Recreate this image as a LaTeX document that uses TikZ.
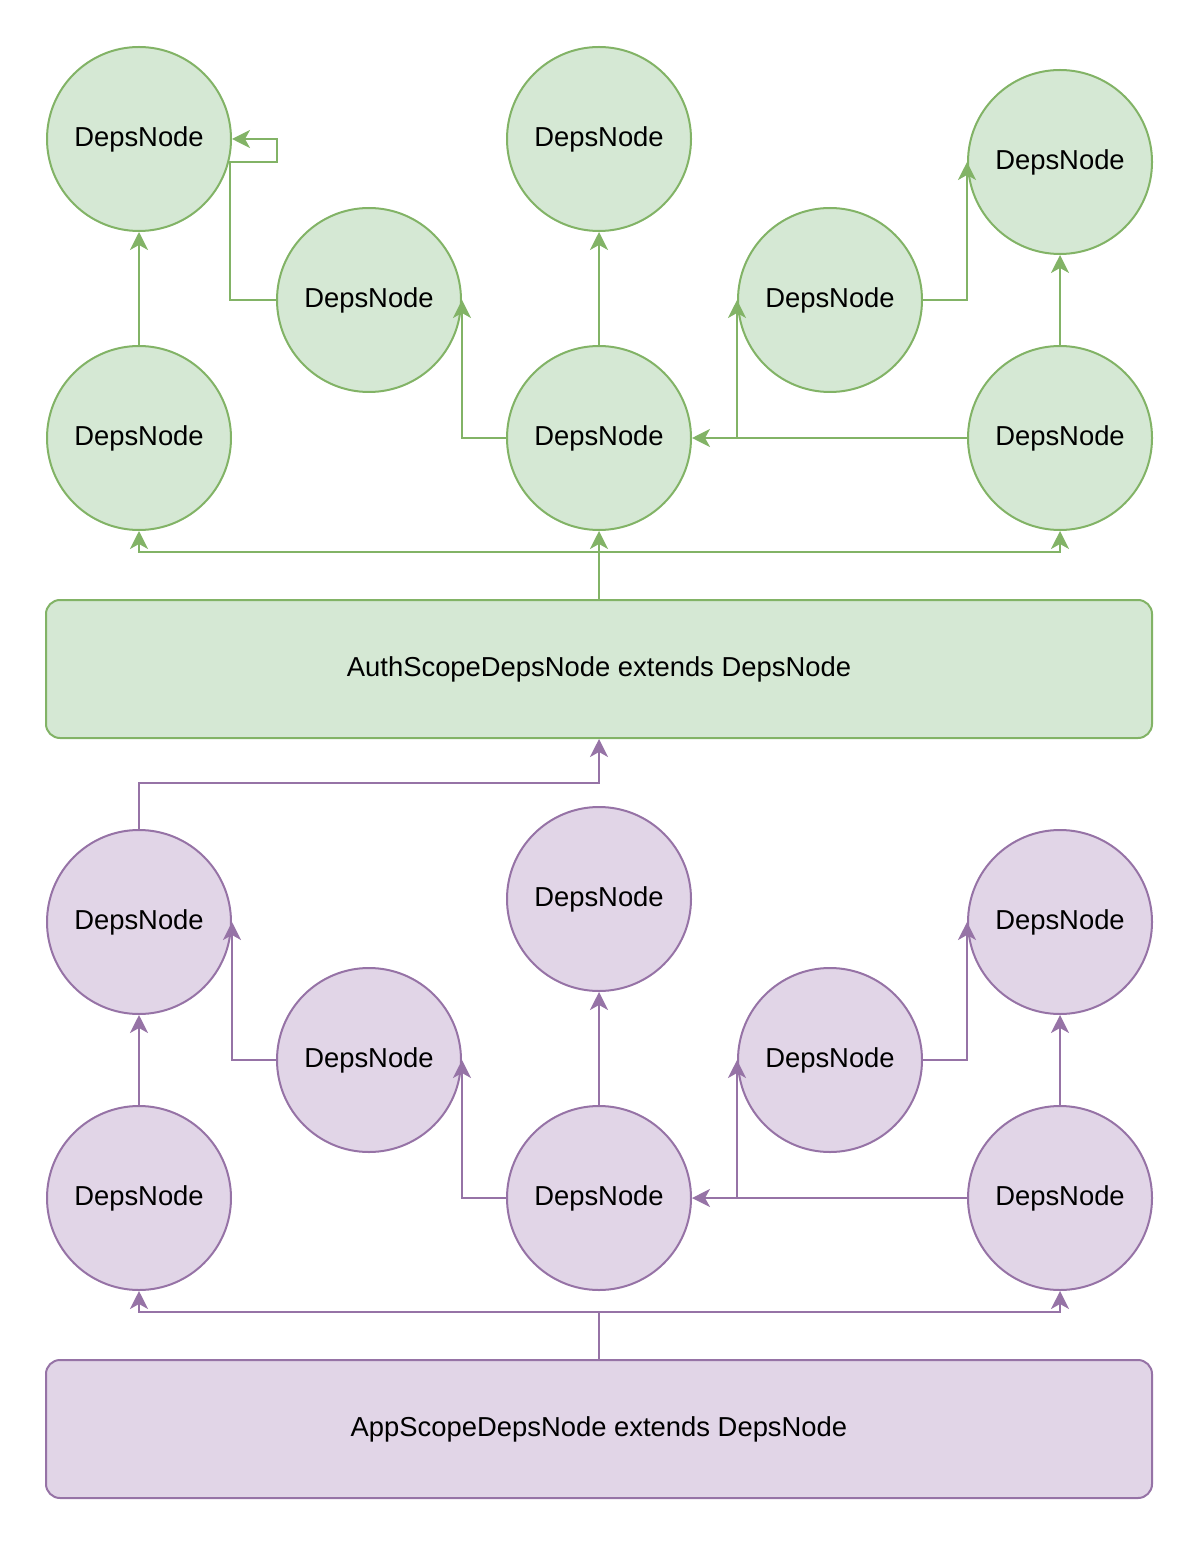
\documentclass[tikz,border=0pt]{standalone}
\usepackage{fontspec}
\setmainfont{Liberation Sans}
\usetikzlibrary{arrows.meta}

\definecolor{gfill}{HTML}{D5E8D4} \definecolor{gline}{HTML}{82B366}
\definecolor{pfill}{HTML}{E1D5E7} \definecolor{pline}{HTML}{9673A6}

\begin{document}
\begin{tikzpicture}[x=0.5pt,y=-0.5pt,
 dep/.style={circle,draw=#1line,fill=#1fill,line width=1pt,minimum size=92pt,inner sep=0pt,
   font=\fontsize{13.7}{16}\selectfont},
 scopebox/.style={rectangle,rounded corners=7pt,draw=#1line,fill=#1fill,line width=1pt,
   minimum width=553pt,minimum height=69pt,font=\fontsize{13.7}{16}\selectfont},
 link/.style={draw=#1line,line width=1pt,-{Stealth[length=9pt,width=9pt,inset=2.5pt]}},
 bare/.style={draw=#1line,line width=1pt}]
\useasboundingbox (0,0) rectangle (1200,1545);

% auth scope (green)
\node[scopebox=g] (auth) at (599,669) {AuthScopeDepsNode extends DepsNode};
\node[dep=g] (ga1) at (139,139) {DepsNode};
\node[dep=g] (ga2) at (599,139) {DepsNode};
\node[dep=g] (ga3) at (1060,162) {DepsNode};
\node[dep=g] (gb1) at (369,300) {DepsNode};
\node[dep=g] (gb2) at (830,300) {DepsNode};
\node[dep=g] (gc1) at (139,438) {DepsNode};
\node[dep=g] (gc2) at (599,438) {DepsNode};
\node[dep=g] (gc3) at (1060,438) {DepsNode};

\draw[link=g] (auth.north) -- ++(0,-47) -| (gc1.south);
\draw[link=g] (auth.north) -- ++(0,-47) -| (gc3.south);
\draw[link=g] (auth.north) -- (gc2.south);
\draw[link=g] (gc1) -- (ga1);
\draw[link=g] (gc2) -- (ga2);
\draw[link=g] (gc3) -- (ga3);
\draw[link=g] (gb1.west) -- ++(-46,0) -- ++(0,-138) -- ++(47,0) -- ++(0,-23) -- (ga1.east);
\draw[link=g] (gc2.west) -| (gb1.east);
\draw[link=g] (gc3.west) -- (gc2.east);
\draw[link=g] (gb2.west |- gc3.west) -- (gb2.west);
\draw[link=g] (gb2.east) -| (ga3.west);

% app scope (purple)
\node[scopebox=p] (app) at (599,1429) {AppScopeDepsNode extends DepsNode};
\node[dep=p] (pa1) at (139,922) {DepsNode};
\node[dep=p] (pa2) at (599,899) {DepsNode};
\node[dep=p] (pa3) at (1060,922) {DepsNode};
\node[dep=p] (pb1) at (369,1060) {DepsNode};
\node[dep=p] (pb2) at (830,1060) {DepsNode};
\node[dep=p] (pc1) at (139,1198) {DepsNode};
\node[dep=p] (pc2) at (599,1198) {DepsNode};
\node[dep=p] (pc3) at (1060,1198) {DepsNode};

\draw[bare=p] (app.north) -- ++(0,-47);
\draw[link=p] (app.north) -- ++(0,-47) -| (pc1.south);
\draw[link=p] (app.north) -- ++(0,-47) -| (pc3.south);
\draw[link=p] (pc1) -- (pa1);
\draw[link=p] (pc2) -- (pa2);
\draw[link=p] (pc3) -- (pa3);
\draw[link=p] (pb1.west) -| (pa1.east);
\draw[link=p] (pc2.west) -| (pb1.east);
\draw[link=p] (pc3.west) -- (pc2.east);
\draw[link=p] (pb2.west |- pc3.west) -- (pb2.west);
\draw[link=p] (pb2.east) -| (pa3.west);
\draw[link=p] (pa1.north) -- ++(0,-46) -| (auth.south);
\end{tikzpicture}
\end{document}
